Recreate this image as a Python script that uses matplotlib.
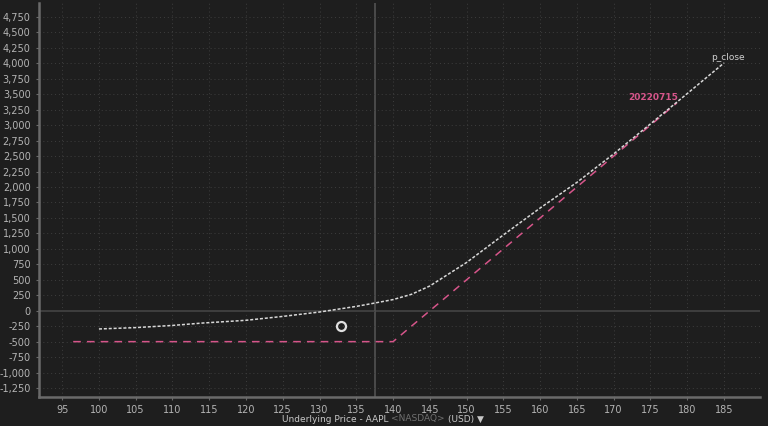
import numpy as np
import matplotlib.pyplot as plt
from matplotlib.ticker import FuncFormatter, MultipleLocator

# p_close curve
close_x = [100, 105, 110, 114, 120, 125, 130, 135, 137.5, 140, 142.5, 145,
           150, 155, 160, 165, 170, 175, 180, 185]
close_y = [-295, -273, -238, -200, -155, -92, -21, 70, 124, 180, 265, 400,
           780, 1225, 1660, 2075, 2535, 3020, 3510, 4005]

# expiry payoff 20220715
expiry_x = [96.5, 140, 178.6]
expiry_y = [-500, -500, 3360]

# current position marker
marker_x = [132.9]
marker_y = [-242]

underlying_last = 137.5

bg = '#1e1e1e'
grid_col = '#3e3e3e'
tick_col = '#b4b4b4'
pink = '#d6558a'
white = '#d8d8d8'

fig = plt.figure(figsize=(7.68, 4.26), dpi=100, facecolor=bg)
ax = fig.add_axes([39 / 768, 29 / 426, 721 / 768, 394 / 426], facecolor=bg)

ax.set_xlim(91.85, 189.9)
ax.set_ylim(-1395, 4975)

ax.xaxis.set_major_locator(MultipleLocator(5))
ax.set_yticks(np.arange(-1250, 4751, 250))
ax.yaxis.set_major_formatter(FuncFormatter(lambda v, p: f"{int(v):,}"))

ax.grid(True, color=grid_col, linestyle=(0, (1, 3)), linewidth=0.7)
ax.axhline(0, color='#444444', linewidth=1.2, zorder=1)
ax.axvline(underlying_last, color='#4e4e4e', linewidth=1.3, zorder=1)

ax.plot(expiry_x, expiry_y, color=pink, linewidth=1.1, linestyle=(0, (5, 4)), zorder=3)
ax.plot(close_x, close_y, color=white, linewidth=1.1, linestyle=(0, (2, 1.2)), zorder=4)
ax.plot(marker_x, marker_y, marker='o', markersize=6.5, markerfacecolor='none',
        markeredgecolor='#e0e0e0', markeredgewidth=1.6, linestyle='none', zorder=5)

ax.text(close_x[-1] + 0.5, close_y[-1] + 20, 'p_close', color='#d0d0d0', fontsize=6.5,
        ha='center', va='bottom')
ax.text(178.7, 3441, '20220715', color=pink, fontsize=6.5,
        ha='right', va='center', fontweight='bold')

for s in ['top', 'right']:
    ax.spines[s].set_visible(False)
for s in ['left', 'bottom']:
    ax.spines[s].set_color('#6a6a6a')
    ax.spines[s].set_linewidth(1.8)

ax.tick_params(labelsize=7, length=2.5, width=0.8)
ax.tick_params(axis='x', colors='#6a6a6a', labelcolor=tick_col)
ax.tick_params(axis='y', colors='#6a6a6a', labelcolor=tick_col)

# x label in three pieces, chained one after another
t1 = fig.text(282 / 768, 1 - 419 / 426, 'Underlying Price - AAPL ', color='#c8c8c8',
              fontsize=6.5, ha='left', va='center')
t2 = ax.annotate('<NASDAQ> ', xy=(1, 0.5), xycoords=t1, color='#707070', fontsize=6.5,
                 ha='left', va='center', annotation_clip=False)
ax.annotate('(USD) \u25bc', xy=(1, 0.5), xycoords=t2, color='#c8c8c8', fontsize=6.5,
            ha='left', va='center', annotation_clip=False)

fig.savefig('out.png', dpi=100, facecolor=bg)
